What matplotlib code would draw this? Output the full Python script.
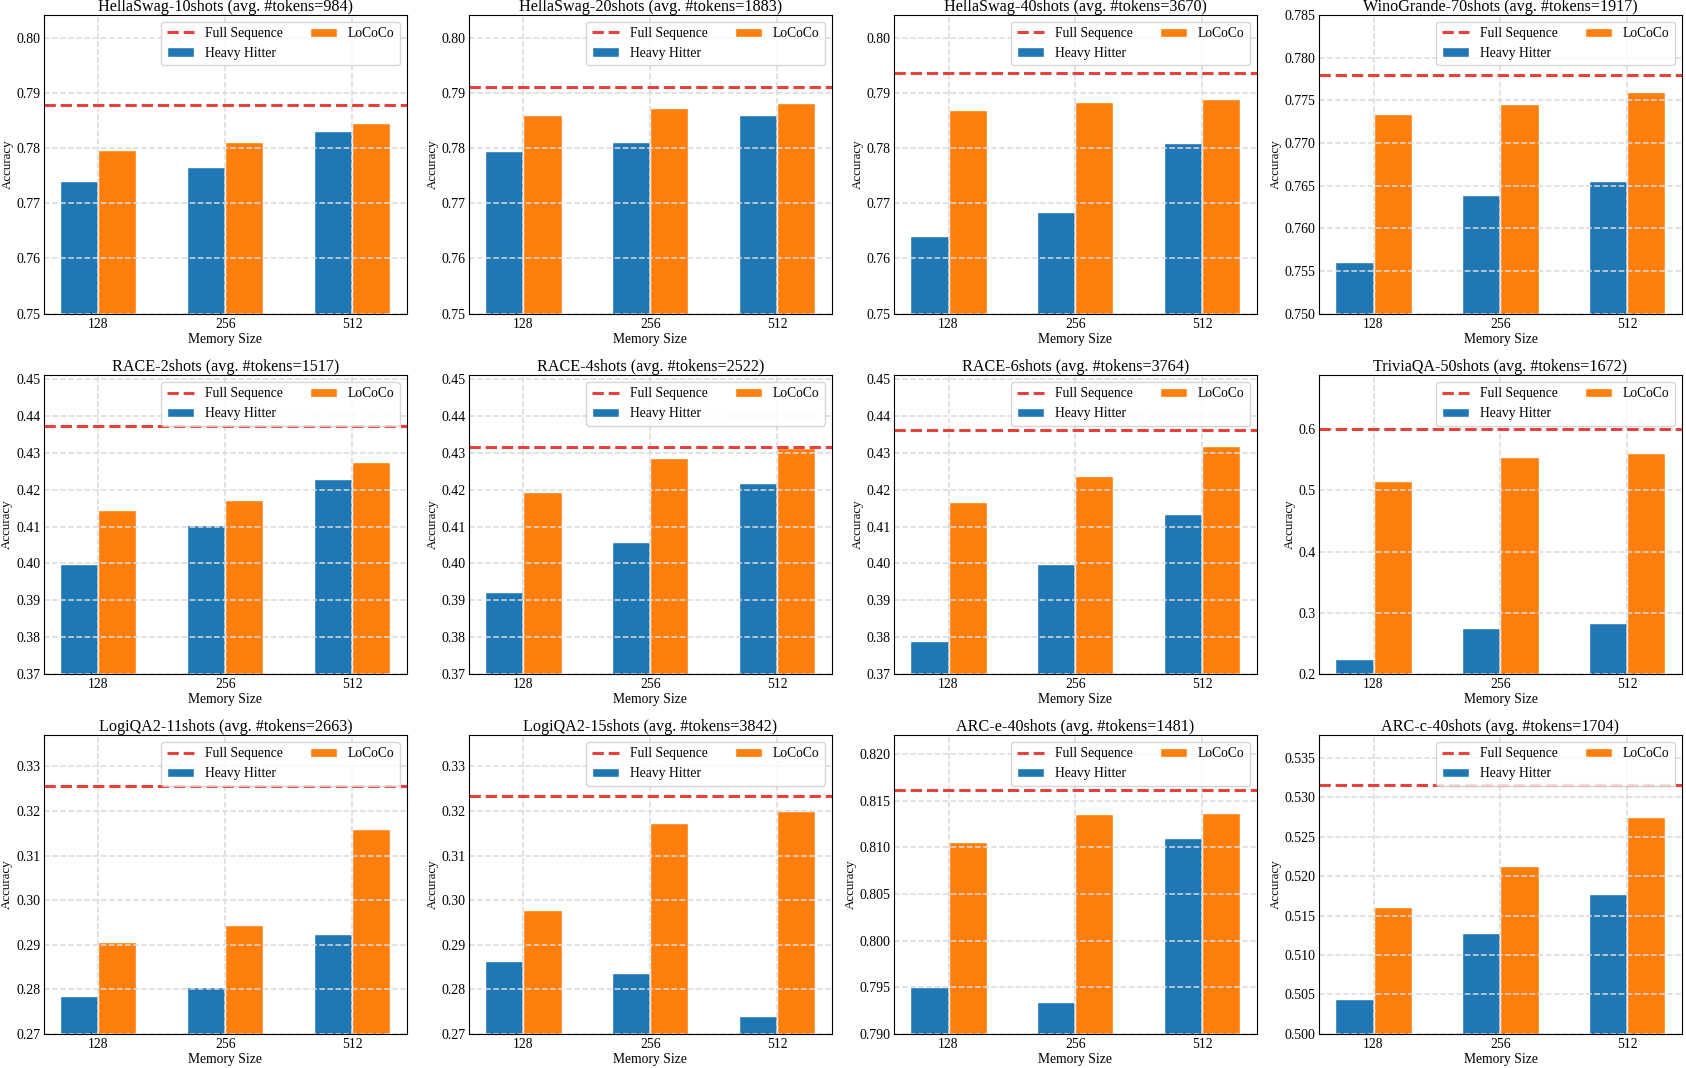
import numpy as np
import matplotlib
matplotlib.use("Agg")
import matplotlib.pyplot as plt
from matplotlib.ticker import MultipleLocator

plt.rcParams['font.family'] = ['Liberation Serif', 'DejaVu Serif']

memory_sizes = ['128', '256', '512']

titles = [
    'HellaSwag-10shots (avg. #tokens=984)',
    'HellaSwag-20shots (avg. #tokens=1883)',
    'HellaSwag-40shots (avg. #tokens=3670)',
    'WinoGrande-70shots (avg. #tokens=1917)',
    'RACE-2shots (avg. #tokens=1517)',
    'RACE-4shots (avg. #tokens=2522)',
    'RACE-6shots (avg. #tokens=3764)',
    'TriviaQA-50shots (avg. #tokens=1672)',
    'LogiQA2-11shots (avg. #tokens=2663)',
    'LogiQA2-15shots (avg. #tokens=3842)',
    'ARC-e-40shots (avg. #tokens=1481)',
    'ARC-c-40shots (avg. #tokens=1704)',
]

full_sequence = [0.7877, 0.7911, 0.7935, 0.7780,
                 0.4373, 0.4316, 0.4364, 0.6010,
                 0.3257, 0.3233, 0.8161, 0.5316]

heavy_hitter = [
    [0.7740, 0.7766, 0.7830],
    [0.7794, 0.7810, 0.7859],
    [0.7640, 0.7684, 0.7809],
    [0.7561, 0.7639, 0.7655],
    [0.3999, 0.4105, 0.4230],
    [0.3923, 0.4057, 0.4219],
    [0.3789, 0.3999, 0.4133],
    [0.2246, 0.2754, 0.2831],
    [0.2785, 0.2804, 0.2925],
    [0.2863, 0.2836, 0.2741],
    [0.7950, 0.7934, 0.8110],
    [0.5044, 0.5128, 0.5178],
]

lococo = [
    [0.7797, 0.7811, 0.7845],
    [0.7859, 0.7873, 0.7882],
    [0.7869, 0.7883, 0.7889],
    [0.7734, 0.7746, 0.7760],
    [0.4146, 0.4172, 0.4277],
    [0.4195, 0.4286, 0.4315],
    [0.4166, 0.4238, 0.4320],
    [0.5153, 0.5541, 0.5617],
    [0.2906, 0.2945, 0.3159],
    [0.2977, 0.3174, 0.3200],
    [0.8106, 0.8136, 0.8137],
    [0.5161, 0.5213, 0.5275],
]

# axis ranges / tick steps per panel
y_limits = [(0.75, 0.8041), (0.75, 0.8041), (0.75, 0.8041), (0.75, 0.785),
            (0.37, 0.4512), (0.37, 0.4512), (0.37, 0.4512), (0.2, 0.689),
            (0.27, 0.337), (0.27, 0.337), (0.79, 0.822), (0.50, 0.5379)]
y_steps = [0.01, 0.01, 0.01, 0.005,
           0.01, 0.01, 0.01, 0.1,
           0.01, 0.01, 0.005, 0.005]

fig, axes = plt.subplots(3, 4, figsize=(16.86, 10.68), dpi=100)
fig.subplots_adjust(left=0.026, right=0.9976, top=0.986, bottom=0.032,
                    wspace=0.171, hspace=0.206)

x = np.arange(len(memory_sizes))
width = 0.3

for i, ax in enumerate(axes.flat):
    ax.axhline(full_sequence[i], color='#e8413c', linestyle='--', linewidth=2.2,
               label='Full Sequence')
    ax.bar(x - width / 2, heavy_hitter[i], width, color='#1f77b4',
           edgecolor='white', linewidth=1, label='Heavy Hitter')
    ax.bar(x + width / 2, lococo[i], width, color='#ff7f0e',
           edgecolor='white', linewidth=1, label='LoCoCo')

    ax.set_ylim(*y_limits[i])
    ax.yaxis.set_major_locator(MultipleLocator(y_steps[i]))
    ax.set_xticks(x)
    ax.set_xticklabels(memory_sizes)
    ax.tick_params(axis='y', labelsize=10, length=0, pad=2.5)
    ax.tick_params(axis='x', labelsize=9.8, length=0, pad=3)
    ax.grid(True, linestyle='--', color='#dadada', linewidth=1.1)

    ax.set_title(titles[i], fontsize=11.6, pad=2.5)
    ax.set_xlabel('Memory Size', fontsize=9.8, labelpad=1.5)
    ax.set_ylabel('Accuracy', fontsize=9.4, labelpad=2)
    ax.legend(loc='upper right', ncol=2, fontsize=9.8, columnspacing=2.0)

plt.savefig('out.png', dpi=100)
